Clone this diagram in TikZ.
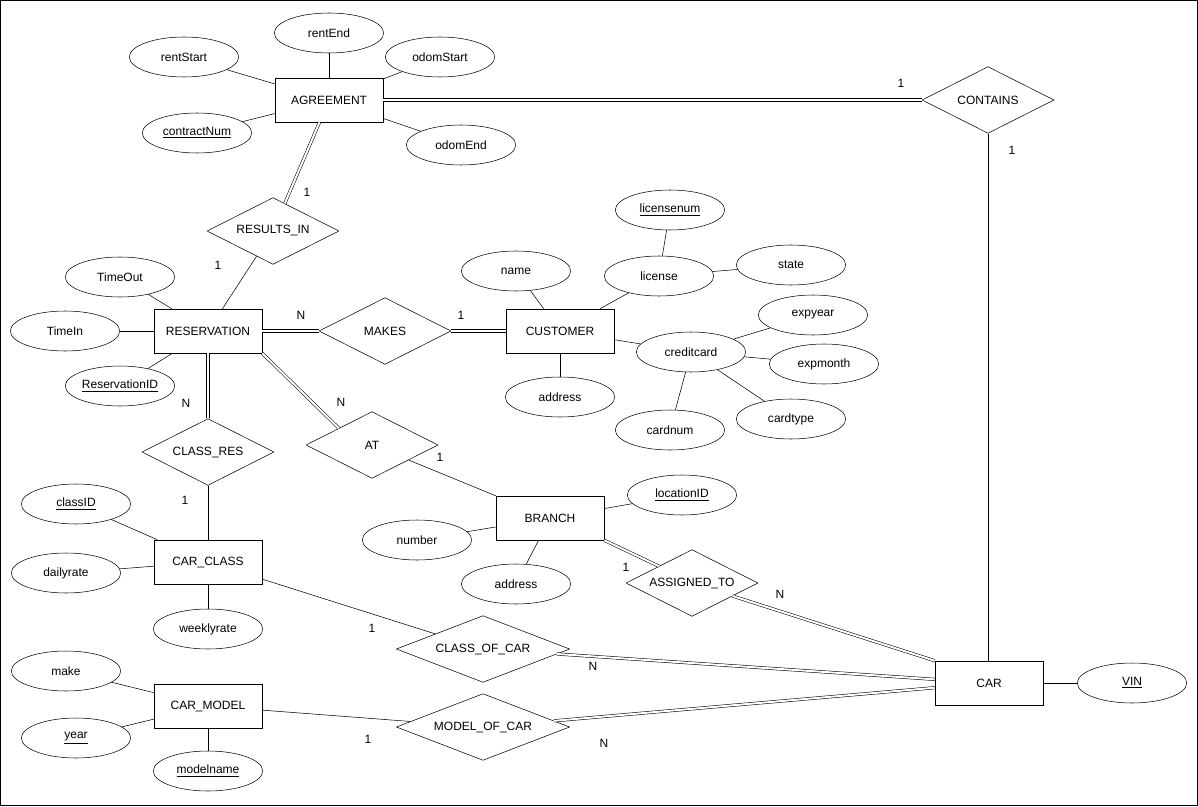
\documentclass[tikz,border=0pt]{standalone}
\usepackage{fontspec}
\setmainfont{Liberation Sans}
\usetikzlibrary{shapes.geometric}
\begin{document}
\begin{tikzpicture}[x=0.75pt,y=-0.75pt,font=\fontsize{9}{10}\selectfont,
 ent/.style={draw,minimum width=81pt,minimum height=33pt,inner sep=0pt},
 att/.style={draw,ellipse,minimum width=82pt,minimum height=30pt,inner sep=0pt},
 rel/.style={draw,diamond,aspect=2,minimum width=99pt,minimum height=50pt,inner sep=0pt},
 dbl/.style={double,double distance=1.5pt},
 lab/.style={inner sep=1pt}]
\useasboundingbox (0,0) rectangle (1198,806);
\draw (0.5,0.5) rectangle (1197.5,805.5);
% entities
\node[ent] (agr) at (329,100) {AGREEMENT};
\node[ent] (res) at (208,331) {RESERVATION};
\node[ent] (cus) at (560,331) {CUSTOMER};
\node[ent] (br) at (550,518) {BRANCH};
\node[ent] (cc) at (208,562) {CAR\_CLASS};
\node[ent] (car) at (989,683) {CAR};
\node[ent] (cm) at (208,706) {CAR\_MODEL};
% relations
\node[rel] (con) at (988,100) {CONTAINS};
\node[rel] (ri) at (273,231) {RESULTS\_IN};
\node[rel] (mk) at (385,331) {MAKES};
\node[rel] (cr) at (208,452) {CLASS\_RES};
\node[rel] (at) at (372,445) {AT};
\node[rel] (as) at (692,583) {ASSIGNED\_TO};
\node[rel,minimum width=130pt] (coc) at (483,649) {CLASS\_OF\_CAR};
\node[rel,minimum width=130pt] (moc) at (483,727) {MODEL\_OF\_CAR};
% attributes
\node[att] (rs) at (184,57) {rentStart};
\node[att] (re) at (329,33) {rentEnd};
\node[att] (os) at (440,57) {odomStart};
\node[att] (cn) at (197,133) {\underline{contractNum}};
\node[att] (oe) at (461,145) {odomEnd};
\node[att] (to) at (120,277) {TimeOut};
\node[att] (ti) at (65,331) {TimeIn};
\node[att] (rid) at (120,386) {\underline{ReservationID}};
\node[att] (nm) at (516,271) {name};
\node[att] (lic) at (659,276) {license};
\node[att] (ln) at (670,210) {\underline{licensenum}};
\node[att] (st) at (791,265) {state};
\node[att] (crd) at (691,352) {creditcard};
\node[att] (ey) at (813,315) {expyear};
\node[att] (em) at (824,364) {expmonth};
\node[att] (ct) at (791,419) {cardtype};
\node[att] (cnum) at (670,430) {cardnum};
\node[att] (ad) at (560,397) {address};
\node[att] (loc) at (682,495) {\underline{locationID}};
\node[att] (num) at (417,540) {number};
\node[att] (ad2) at (516,584) {address};
\node[att] (cid) at (76,504) {\underline{classID}};
\node[att] (dr) at (66,573) {dailyrate};
\node[att] (wr) at (208,629) {weeklyrate};
\node[att] (vin) at (1132,683) {\underline{VIN}};
\node[att] (mak) at (66,671) {make};
\node[att] (yr) at (76,738) {\underline{year}};
\node[att] (mn) at (208,771) {\underline{modelname}};
% attribute lines
\foreach \a/\b in {rs/agr,re/agr,os/agr,cn/agr,oe/agr,to/res,ti/res,rid/res,nm/cus,lic/cus,ln/lic,st/lic,crd/cus,ey/crd,em/crd,ct/crd,cnum/crd,ad/cus,loc/br,num/br,ad2/br,cid/cc,dr/cc,wr/cc,vin/car,mak/cm,yr/cm,mn/cm}
  \draw (\a) -- (\b);
% relationships
\draw[dbl] (agr) -- (con);
\draw (con) -- (con |- car.north);
\draw[dbl] (agr) -- (ri);
\draw (ri) -- (res);
\draw[dbl] (res) -- (mk);
\draw[dbl] (mk) -- (cus);
\draw[dbl] (res) -- (cr);
\draw (cr) -- (cc);
\draw[dbl] (res.south east) -- (at.north west);
\draw (at) -- (br);
\draw[dbl] (br.south east) -- (as.north west);
\draw[dbl] (as) -- (car.north west);
\draw (cc) -- (coc);
\draw[dbl] (coc) -- (car);
\draw (cm) -- (moc);
\draw[dbl] (moc) -- (car);
% cardinalities
\node[lab] at (901,83) {1};
\node[lab] at (1012,150) {1};
\node[lab] at (307,192) {1};
\node[lab] at (218,265) {1};
\node[lab] at (301,315) {N};
\node[lab] at (461,315) {1};
\node[lab] at (186,403) {N};
\node[lab] at (185,500) {1};
\node[lab] at (341,402) {N};
\node[lab] at (440,457) {1};
\node[lab] at (626,567) {1};
\node[lab] at (780,594) {N};
\node[lab] at (372,628) {1};
\node[lab] at (593,666) {N};
\node[lab] at (368,739) {1};
\node[lab] at (604,743) {N};
\end{tikzpicture}
\end{document}
